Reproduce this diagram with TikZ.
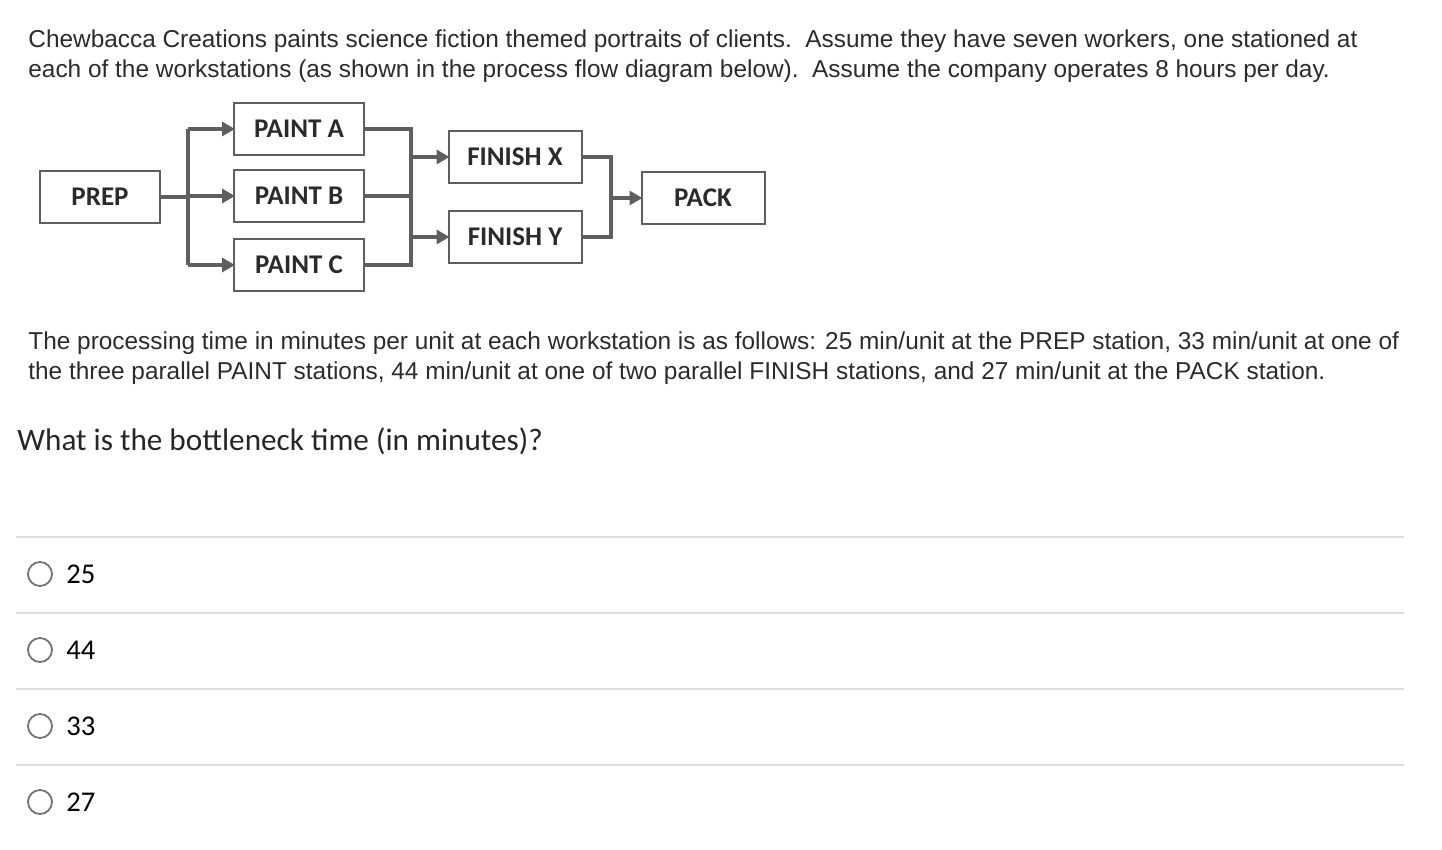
\documentclass[tikz,border=0pt]{standalone}
\usepackage{fontspec}
\setmainfont{Liberation Sans}
\newfontfamily\boxfont{Carlito}
\newfontfamily\quizfont{Carlito}
\usetikzlibrary{arrows.meta}

\definecolor{linegray}{HTML}{5F5F5F}
\definecolor{textgray}{HTML}{2B2B2B}
\definecolor{rulegray}{HTML}{DDDDDD}

\tikzset{
  station/.style={draw=linegray, line width=1pt, fill=white, minimum width=65pt,
    minimum height=26pt, inner sep=0pt, outer sep=0pt, text=textgray,
    font=\boxfont\bfseries\fontsize{13.5}{15}\selectfont},
  flow/.style={draw=linegray, line width=2pt},
  flowto/.style={flow, -{Triangle[length=6.5pt,width=7pt]}, shorten >=-0.5pt},
  para/.style={anchor=base west, inner sep=0pt, text=textgray,
    font=\fontsize{12.2}{14}\selectfont},
  choice/.style={anchor=base west, inner sep=0pt,
    font=\quizfont\fontsize{14.3}{16}\selectfont},
}

\begin{document}
\begin{tikzpicture}[x=0.5pt,y=-0.5pt]
  \useasboundingbox (0,0) rectangle (1442,850);

  % text above the diagram
  \node[para] (intro1) at (28,48) {Chewbacca Creations paints science fiction themed portraits of clients.\ \ Assume they have seven workers, one stationed at};
  \node[para] (intro2) at (28,78) {each of the workstations (as shown in the process flow diagram below).\ \ Assume the company operates 8 hours per day.};

  % process flow
  \node[station, minimum width=60pt] (prep) at (100,197) {PREP};
  \node[station] (paintA) at (299,129) {PAINT A};
  \node[station] (paintB) at (299,196) {PAINT B};
  \node[station] (paintC) at (299,265) {PAINT C};
  \node[station, minimum width=66.5pt] (finishX) at (515,157) {FINISH X};
  \node[station, minimum width=66.5pt] (finishY) at (515,237) {FINISH Y};
  \node[station, minimum width=61.5pt] (pack) at (703,198) {PACK};

  \coordinate (splitA) at (188,129);
  \coordinate (splitC) at (188,265);
  \coordinate (mergeA) at (411,129);
  \coordinate (mergeC) at (411,265);
  \coordinate (mergeX) at (611,157);
  \coordinate (mergeY) at (611,237);

  \draw[flow] (prep.east) -- (188,197);
  \draw[flow] (splitA) -- (splitC);
  \draw[flowto] (splitA) -- (paintA.west);
  \draw[flowto] (188,196) -- (paintB.west);
  \draw[flowto] (splitC) -- (paintC.west);

  \draw[flow] (paintA.east) -- (mergeA) -- (mergeC) -- (paintC.east);
  \draw[flow] (paintB.east) -- (411,196);
  \draw[flowto] (411,157) -- (finishX.west);
  \draw[flowto] (411,237) -- (finishY.west);

  \draw[flow] (finishX.east) -- (mergeX) -- (mergeY) -- (finishY.east);
  \draw[flowto] (611,198) -- (pack.west);

  % processing times
  \node[para] (times1) at (28,350) {The processing time in minutes per unit at each workstation is as follows: 25 min/unit at the PREP station, 33 min/unit at one of};
  \node[para] (times2) at (28,380) {the three parallel PAINT stations, 44 min/unit at one of two parallel FINISH stations, and 27 min/unit at the PACK station.};

  % question
  \node[anchor=base west, inner sep=0pt, text=black!85,
    font=\quizfont\fontsize{15.6}{18}\selectfont] (question) at (17,451) {What is the bottleneck time (in minutes)?};

  % answers
  \foreach \y/\val [count=\i] in {574/25, 650/44, 726/33, 802/27} {
    \draw[rulegray, line width=1pt] (16,\y-37) -- (1404,\y-37);
    \draw[black!55, line width=0.9pt] (40,\y) circle (12);
    \node[choice] (ans\i) at (66,\y+9) {\val};
  }
\end{tikzpicture}
\end{document}
